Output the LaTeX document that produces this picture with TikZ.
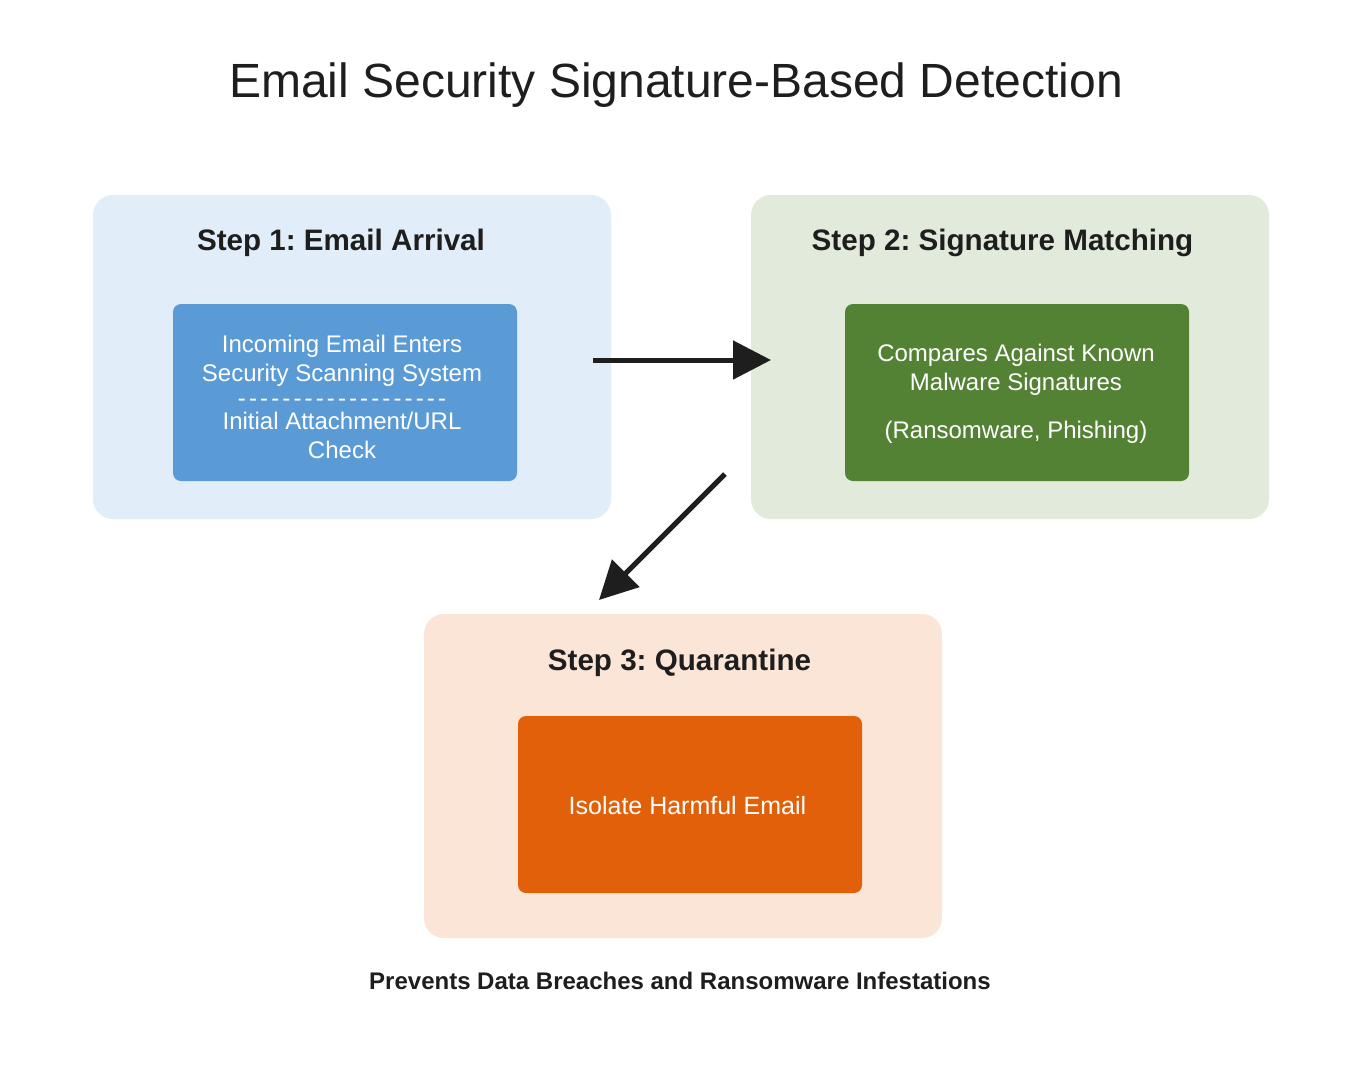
\documentclass[tikz,border=0pt]{standalone}
\usepackage{fontspec}
\setmainfont{Liberation Sans}
\newfontfamily\plainfont{Liberation Sans}
\usetikzlibrary{arrows.meta}
\definecolor{outerA}{HTML}{E1EDF8}
\definecolor{outerB}{HTML}{E2EADB}
\definecolor{outerC}{HTML}{FBE5D6}
\definecolor{innerA}{HTML}{5B9BD5}
\definecolor{innerB}{HTML}{548235}
\definecolor{innerC}{HTML}{E3600A}
\definecolor{ink}{HTML}{1E1E1E}
\frenchspacing
\begin{document}
\begin{tikzpicture}[x=1pt,y=-1pt,
  outerbox/.style={rounded corners=20pt, minimum width=518pt, minimum height=324pt, inner sep=0pt, draw=none},
  innerbox/.style={rounded corners=8pt, minimum width=344pt, minimum height=177pt, inner sep=0pt, draw=none},
  steptitle/.style={anchor=base, inner sep=0pt, text=ink, font=\fontsize{29.6}{34}\selectfont\bfseries},
  boxtext/.style={anchor=base, inner sep=0pt, text=white, align=center, font=\fontsize{24}{29}\selectfont},
  flow/.style={line width=5pt, draw=ink, -{Triangle[length=38pt,width=38pt]}}
]
\path[fill=white] (0,0) rectangle (1366,1072);
\useasboundingbox (0,0) rectangle (1366,1072);

\node[anchor=base, inner sep=0pt, text=ink, font=\fontsize{48}{56}\selectfont] (title) at (676,97) {Email Security Signature-Based Detection};

% Step 1
\node[outerbox, fill=outerA] (o1) at (352,357) {};
\node[steptitle] (t1) at (341,250) {Step 1: Email Arrival};
\node[innerbox, fill=innerA] (i1) at (345,392.5) {};
\node[boxtext] (x1) at (342,458) {Incoming Email Enters\\Security Scanning System\\[-4pt]{\plainfont\addfontfeature{LetterSpace=13}-------------------}\\[-6pt]Initial Attachment/URL\\Check};

% Step 2
\node[outerbox, fill=outerB] (o2) at (1010,357) {};
\node[steptitle] (t2) at (1002.5,250) {Step 2: Signature Matching};
\node[innerbox, fill=innerB] (i2) at (1017,392.5) {};
\node[boxtext] (x2) at (1016,438) {Compares Against Known\\Malware Signatures\\[19pt](Ransomware, Phishing)};

% Step 3
\node[outerbox, fill=outerC] (o3) at (683,776) {};
\node[steptitle] (t3) at (679.5,670) {Step 3: Quarantine};
\node[innerbox, fill=innerC] (i3) at (690,804.5) {};
\node[boxtext, font=\fontsize{25}{30}\selectfont] (x3) at (687.5,814) {Isolate Harmful Email};

% footer
\node[anchor=base, inner sep=0pt, text=ink, font=\fontsize{24}{29}\selectfont\bfseries] (foot) at (680,989) {Prevents Data Breaches and Ransomware Infestations};

% arrows
\coordinate (a1s) at (593,360);
\coordinate (a1e) at (771,360);
\coordinate (a2s) at (725,474);
\coordinate (a2e) at (599,600);
\draw[flow] (a1s) -- (a1e);
\draw[flow] (a2s) -- (a2e);
\end{tikzpicture}
\end{document}
